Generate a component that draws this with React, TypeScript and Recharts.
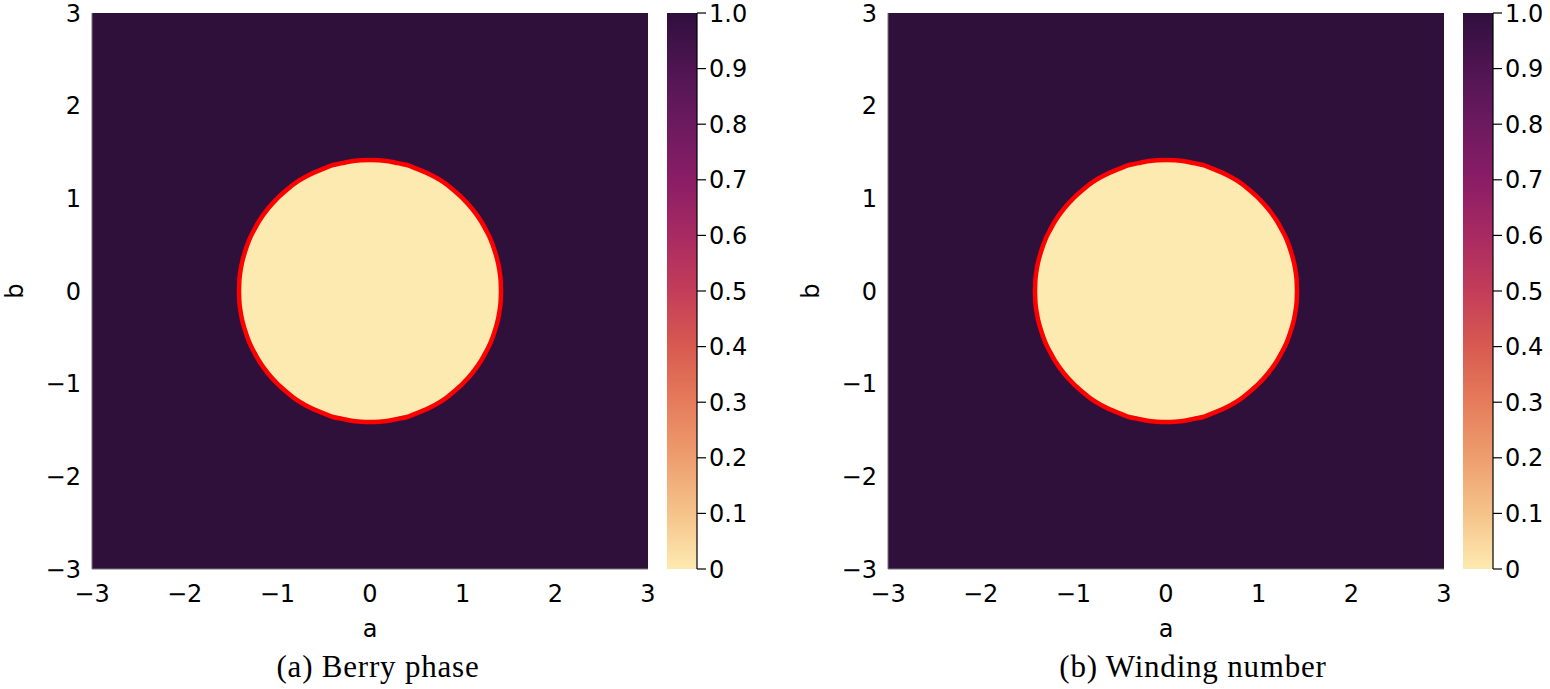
import React from 'react';
import { ComposedChart, Area, XAxis, YAxis, CartesianGrid, BarChart, Bar } from 'recharts';

// ---- data ----
const axisTicks = [-3, -2, -1, 0, 1, 2, 3];
const colorbarTicks = [0, 0.1, 0.2, 0.3, 0.4, 0.5, 0.6, 0.7, 0.8, 0.9, 1.0];
const colorbarValue = [{ k: 'cb', v: 1 }];

// phase boundary (upper half, b >= 0); lower half mirrors it
const boundaryA = [
  -1.414, -1.41, -1.4, -1.38, -1.35, -1.3, -1.25, -1.2, -1.1, -1.0, -0.9, -0.8, -0.7, -0.6, -0.5, -0.4, -0.3, -0.2, -0.1,
  0,
  0.1, 0.2, 0.3, 0.4, 0.5, 0.6, 0.7, 0.8, 0.9, 1.0, 1.1, 1.2, 1.25, 1.3, 1.35, 1.38, 1.4, 1.41, 1.414,
];
const boundaryB = [
  0, 0.11, 0.2, 0.31, 0.42, 0.56, 0.66, 0.75, 0.89, 1.0, 1.09, 1.17, 1.23, 1.28, 1.32, 1.36, 1.38, 1.4, 1.41,
  1.414,
  1.41, 1.4, 1.38, 1.36, 1.32, 1.28, 1.23, 1.17, 1.09, 1.0, 0.89, 0.75, 0.66, 0.56, 0.42, 0.31, 0.2, 0.11, 0,
];

const panelCaptions = ['(a) Berry phase', '(b) Winding number'];

// colormap stops (value -> colour), "matter"-like
const cmapValues = [1.0, 0.9, 0.8, 0.7, 0.6, 0.5, 0.4, 0.3, 0.2, 0.1, 0.0];
const cmapColors = ['#2f0f3d', '#4f1552', '#6c1a5f', '#8a1d66', '#a82a62', '#c33d59', '#d85a50', '#e67c5b', '#ee9e6e', '#f5c38a', '#fdeab0'];

const boundaryData = boundaryA.map((a, i) => ({ a, range: [-boundaryB[i], boundaryB[i]] }));

const DARK = '#2f103b';
const LIGHT = '#fdeab0';
const FONT = "'DejaVu Sans', sans-serif";

const fmtAxis = (v: number) => (v < 0 ? '\u2212' + Math.abs(v) : String(v));
const fmtCb = (v: number) => (v === 0 ? '0' : v.toFixed(1));

const tickStyle = { fill: '#000', fontSize: 24, fontFamily: FONT };

function YLabel(props: any) {
  const vb = props.viewBox || {};
  const x = (vb.x || 0) + 22.5;
  const y = (vb.y || 0) + (vb.height || 0) / 2;
  return (
    <text x={x} y={y} transform={`rotate(-90, ${x}, ${y})`} textAnchor="middle" fontSize={24} fontFamily={FONT} fill="#000">
      b
    </text>
  );
}

function Panel({ idx, left }: { idx: number; left: number }) {
  const gid = `cbgrad${idx}`;
  return (
    <>
      <div style={{ position: 'absolute', left, top: 0 }}>
        <ComposedChart
          width={660}
          height={660}
          data={boundaryData}
          margin={{ top: 13, right: 12, bottom: 20, left: 0 }}
        >
          <CartesianGrid horizontal={false} vertical={false} fill={DARK} fillOpacity={1} stroke="none" />
          <XAxis
            type="number"
            dataKey="a"
            domain={[-3, 3]}
            ticks={axisTicks}
            interval={0}
            allowDataOverflow
            tickFormatter={fmtAxis}
            tickLine={false}
            axisLine={{ stroke: '#777', strokeWidth: 1 }}
            tick={tickStyle}
            tickMargin={10}
            height={71}
            label={{ value: 'a', position: 'insideBottom', offset: 3, fontSize: 24, fontFamily: FONT, fill: '#000' }}
          />
          <YAxis
            type="number"
            domain={[-3, 3]}
            ticks={axisTicks}
            interval={0}
            allowDataOverflow
            tickFormatter={fmtAxis}
            tickLine={false}
            axisLine={{ stroke: '#777', strokeWidth: 1 }}
            tick={tickStyle}
            tickMargin={5}
            width={92}
            label={<YLabel />}
          />
          <Area
            dataKey="range"
            type="monotone"
            fill={LIGHT}
            fillOpacity={1}
            stroke="#ff0000"
            strokeWidth={4.5}
            dot={false}
            activeDot={false}
            isAnimationActive={false}
          />
        </ComposedChart>
      </div>
      <div style={{ position: 'absolute', left: left + 667, top: 0 }}>
        <BarChart
          width={90}
          height={600}
          data={colorbarValue}
          margin={{ top: 13, right: 0, bottom: 31, left: 0 }}
          barCategoryGap={0}
          barGap={0}
        >
          <defs>
            <linearGradient id={gid} x1="0" y1="0" x2="0" y2="1">
              {cmapValues.map((v, i) => (
                <stop key={i} offset={`${(1 - v) * 100}%`} stopColor={cmapColors[i]} />
              ))}
            </linearGradient>
          </defs>
          <XAxis dataKey="k" hide />
          <YAxis
            orientation="right"
            type="number"
            domain={[0, 1]}
            ticks={colorbarTicks}
            interval={0}
            tickFormatter={fmtCb}
            width={60}
            tickSize={9}
            tickMargin={3}
            axisLine={{ stroke: '#000', strokeWidth: 1.2 }}
            tickLine={{ stroke: '#000', strokeWidth: 1.2 }}
            tick={tickStyle}
          />
          <Bar dataKey="v" fill={`url(#${gid})`} isAnimationActive={false} />
        </BarChart>
      </div>
      <div
        style={{
          position: 'absolute',
          left: idx === 0 ? 0 : 815,
          width: 756,
          top: 651,
          textAlign: 'center',
          fontFamily: "'Liberation Serif', serif",
          fontSize: 31,
          lineHeight: 1,
          letterSpacing: 0.8,
          color: '#000',
          whiteSpace: 'nowrap',
        }}
      >
        {panelCaptions[idx]}
      </div>
    </>
  );
}

export default function App() {
  return (
    <div style={{ position: 'absolute', left: 0, top: 0, width: 1550, height: 689, background: '#fff', overflow: 'hidden' }}>
      <Panel idx={0} left={0} />
      <Panel idx={1} left={796} />
    </div>
  );
}
